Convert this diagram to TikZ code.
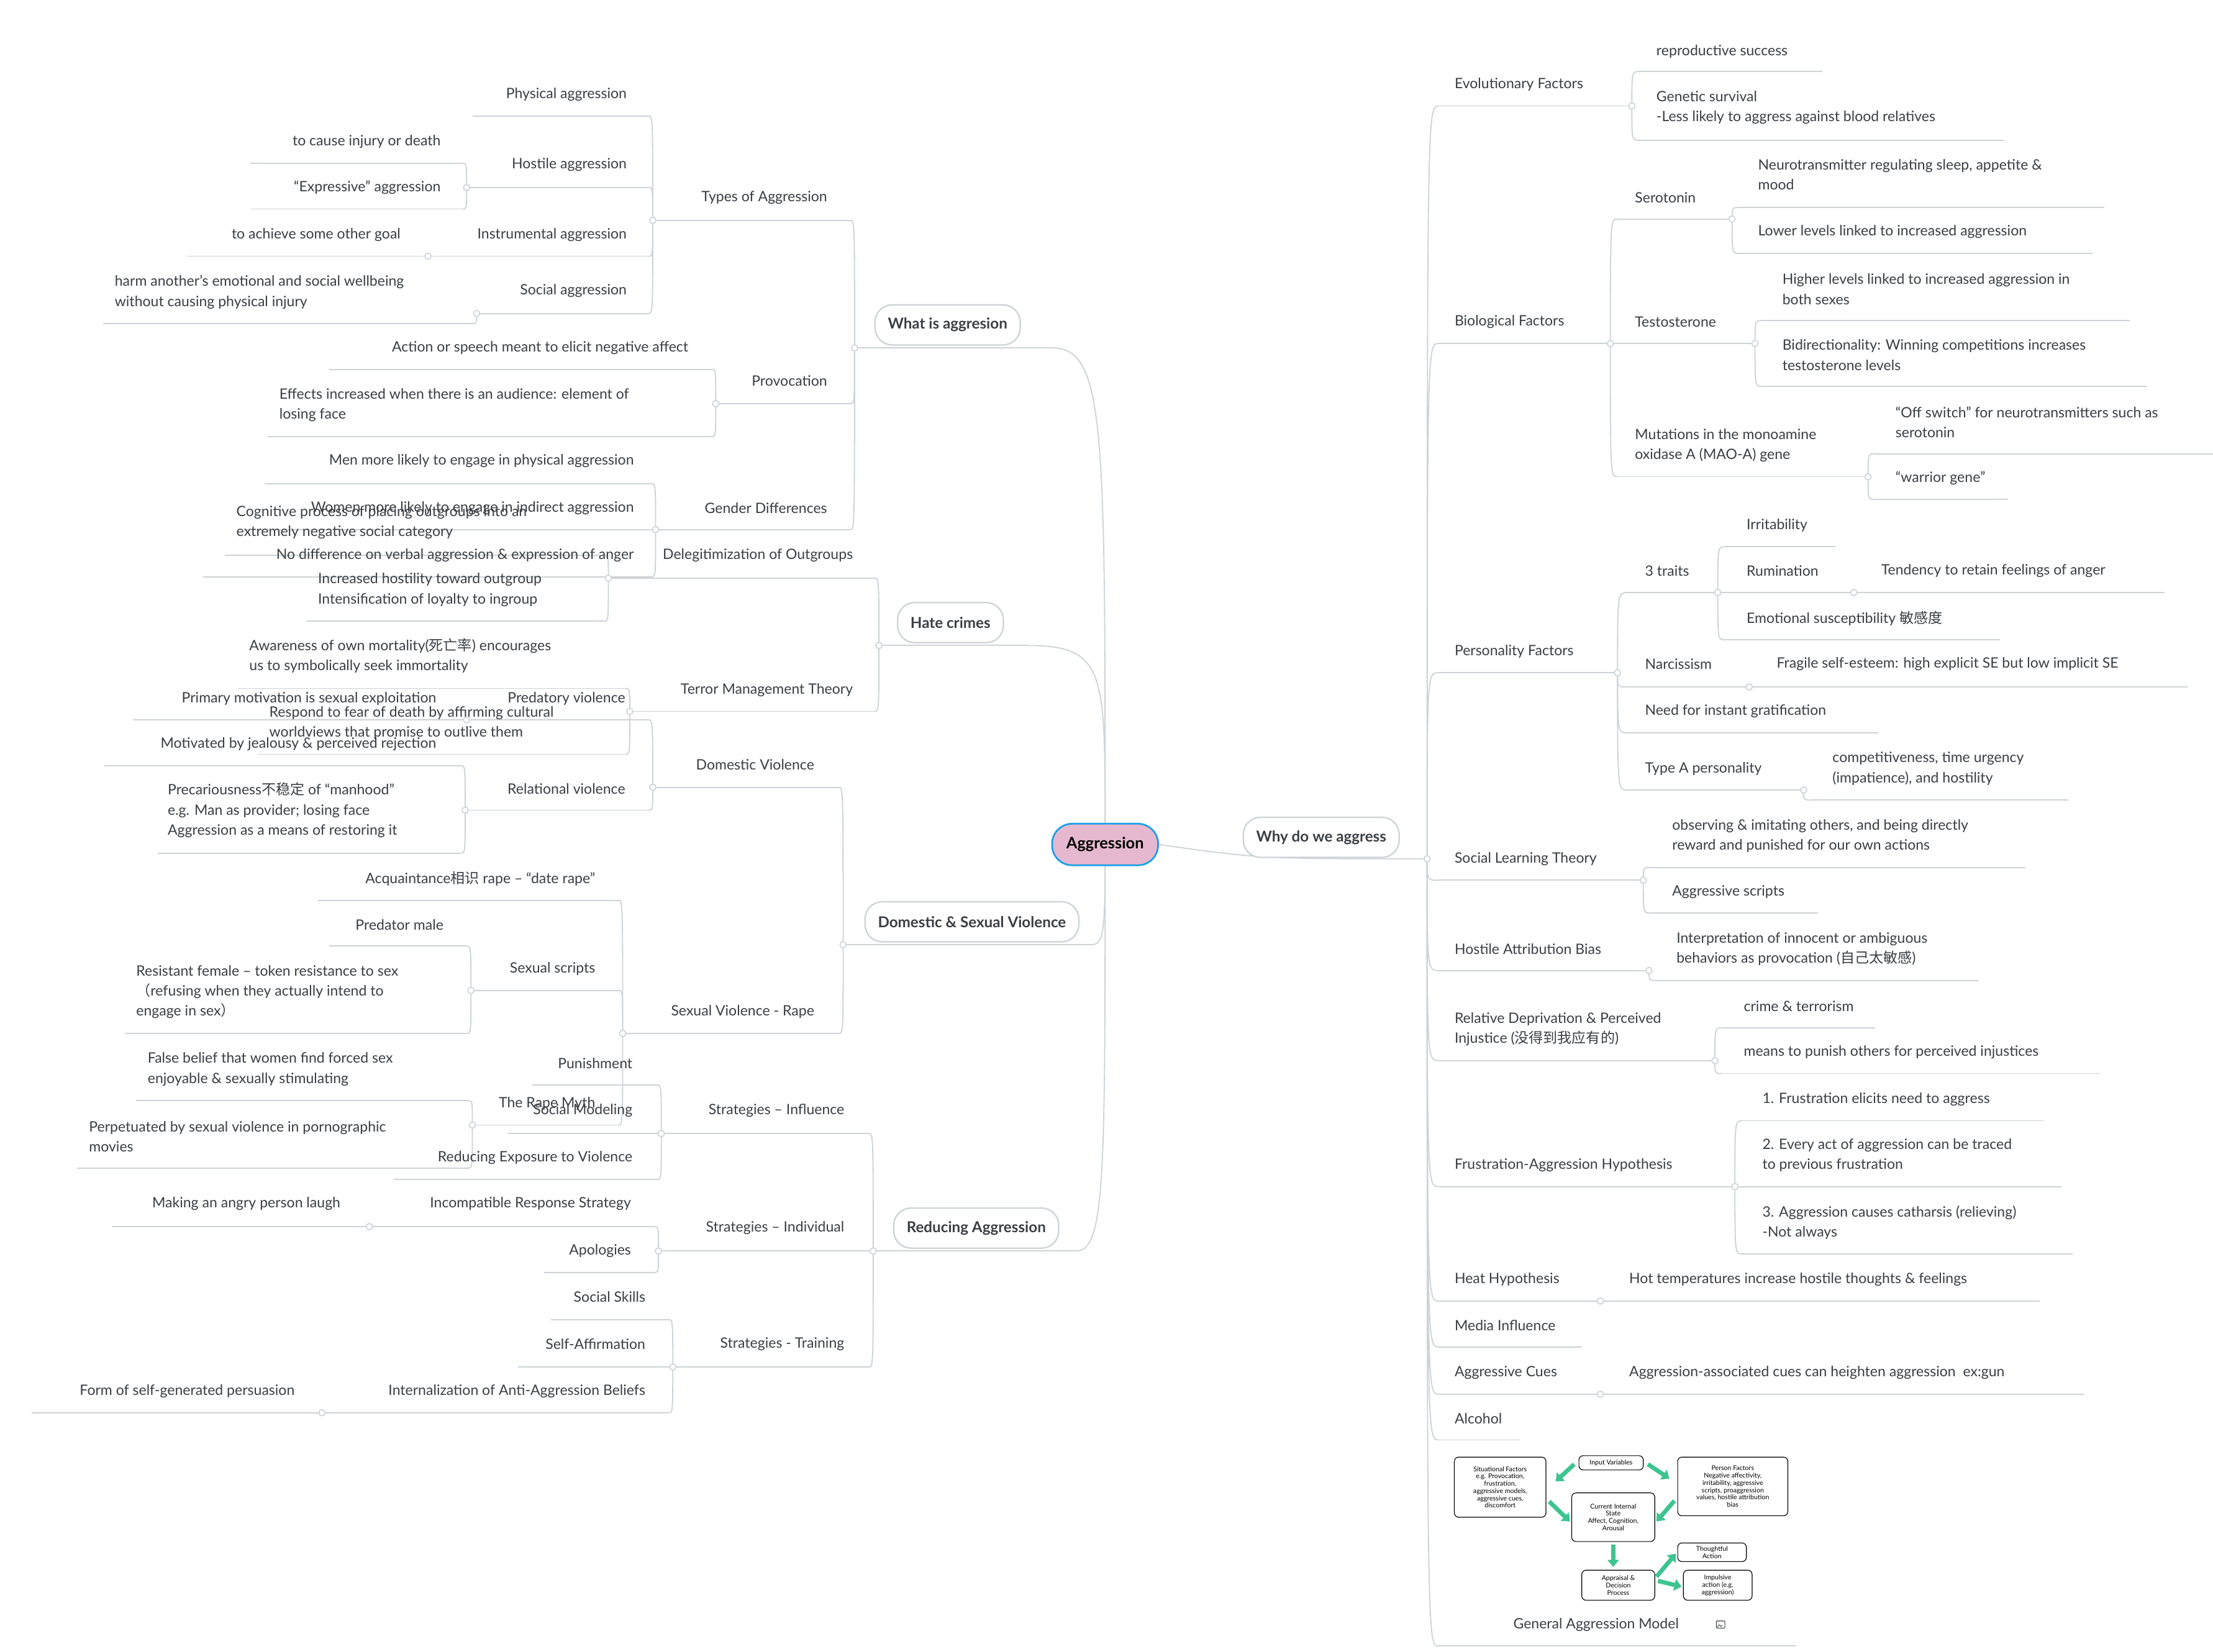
\documentclass[tikz,border=0pt]{standalone}
\usepackage{fontspec}
\setmainfont{Lato}
\newfontfamily\cjk{Noto Sans CJK SC}
\usetikzlibrary{backgrounds,arrows.meta}
\pgfdeclarelayer{bgzero}
\pgfsetlayers{bgzero,background,main}
\definecolor{txt}{HTML}{3A3F44}
\definecolor{ln}{HTML}{CDD3D7}
\definecolor{gam}{HTML}{3EC490}
\definecolor{cfill}{HTML}{E6B8CF}
\definecolor{cbord}{HTML}{1AA0E8}
\tikzset{
 lbl/.style={font=\fontsize{10}{14}\selectfont, text=txt, inner sep=0pt, align=left},
 uline/.style={draw=ln, line width=0.8pt},
 conn/.style={draw=ln, line width=0.8pt},
 topic/.style={draw=ln, line width=1pt, fill=white, rounded corners=12pt, minimum height=28pt, inner xsep=9pt, font=\fontsize{10.5}{13}\selectfont\bfseries, text=txt},
 centre/.style={draw=cbord, line width=1.2pt, fill=cfill, rounded corners=14pt, minimum height=29pt, inner xsep=10pt, font=\fontsize{11}{13}\selectfont\bfseries, text=black},
 gbox/.style={draw=black, line width=0.5pt, rounded corners=3pt, fill=white, font=\fontsize{4.6}{5.1}\selectfont, align=center, inner sep=0.5pt},
 garr/.style={draw=gam, line width=3pt, -{Triangle[length=5pt,width=8pt]}},
}
% name, anchor, text x, text y, line y, line left, line right, text
\newcommand\nd[8]{%
 \node[lbl, anchor=#2] (#1) at (#3,-#4) {#8};
 \coordinate (#1-l) at (#6,-#5);
 \coordinate (#1-r) at (#7,-#5);
 \begin{pgfonlayer}{background}\draw[uline] (#1-l) -- (#1-r);\end{pgfonlayer}}
\newcommand\cn[2]{\begin{pgfonlayer}{background}\draw[conn] (#1) .. controls (#1 |- #2) and (#1 |- #2) .. (#2);\end{pgfonlayer}}
\newcommand\jn[1]{\draw[ln, line width=0.7pt, fill=white] (#1) circle (2.2);}
\begin{document}
\begin{tikzpicture}[x=1pt,y=1pt]
\begin{pgfonlayer}{bgzero}
\fill[white] (0,0) rectangle (1546,-1154);
\end{pgfonlayer}
\useasboundingbox (0,0) rectangle (1546,-1154);

% centre and topics
\node[centre] (C) at (772,-590) {Aggression};
\node[topic] (T1) at (662,-227) {What is aggresion};
\coordinate (T1j) at (597,-243); \coordinate (T1e) at (735,-243);
\node[topic] (T2) at (664,-435) {Hate crimes};
\coordinate (T2j) at (614,-451); \coordinate (T2e) at (718,-451);
\node[topic] (T3) at (679,-644) {Domestic \& Sexual Violence};
\coordinate (T3j) at (589,-660); \coordinate (T3e) at (762,-660);
\node[topic] (T4) at (682,-858) {Reducing Aggression};
\coordinate (T4j) at (610,-874); \coordinate (T4e) at (752,-874);
\node[topic] (T5) at (923,-585) {Why do we aggress};
\coordinate (T5j) at (997,-600);
\begin{pgfonlayer}{background}
\draw[uline] (T1j) -- (T1e); \draw[uline] (T2j) -- (T2e);
\draw[uline] (T3j) -- (T3e); \draw[uline] (T4j) -- (T4e);
\draw[conn] (C.north) .. controls (772,-300) and (772,-243) .. (T1e);
\draw[conn] (C.north) .. controls (772,-470) and (772,-451) .. (T2e);
\draw[conn] (C.south) .. controls (772,-655) and (770,-660) .. (T3e);
\draw[conn] (C.south) .. controls (772,-820) and (772,-874) .. (T4e);
\draw[conn] (C.east) .. controls (880,-600) and (880,-600) .. (T5j);
\end{pgfonlayer}

% ===== What is aggresion
\nd{A1}{east}{578}{138}{154}{456}{594}{Types of Aggression}
\nd{A11}{east}{438}{66}{81}{330}{453}{Physical aggression}
\nd{A12}{east}{438}{115}{131}{326}{453}{Hostile aggression}
\nd{A121}{east}{308}{99}{114}{175}{323}{to cause injury or death}
\nd{A122}{east}{308}{131}{146}{175}{323}{“Expressive” aggression}
\nd{A13}{east}{438}{164}{179}{299}{453}{Instrumental aggression}
\nd{A131}{east}{280}{164}{179}{130}{296}{to achieve some other goal}
\nd{A14}{east}{438}{203}{219}{333}{453}{Social aggression}
\nd{A141}{west}{80}{204}{226}{72}{330}{harm another’s emotional and social wellbeing\\without causing physical injury}
\nd{A2}{east}{578}{266}{282}{500}{594}{Provocation}
\nd{A21}{east}{481}{243}{258}{230}{497}{Action or speech meant to elicit negative affect}
\nd{A22}{west}{195}{283}{305}{187}{497}{Effects increased when there is an audience: element of\\losing face}
\nd{A3}{east}{578}{355}{370}{458}{594}{Gender Differences}
\nd{A31}{east}{443}{322}{338}{185}{455}{Men more likely to engage in physical aggression}
\nd{A32}{east}{443}{355}{370}{170}{455}{Women more likely to engage in indirect aggression}
\nd{A33}{east}{443}{388}{403}{142}{455}{No difference on verbal aggression \& expression of anger}
\cn{T1j}{A1-r}\cn{T1j}{A2-r}\cn{T1j}{A3-r}
\cn{A1-l}{A11-r}\cn{A1-l}{A12-r}\cn{A1-l}{A13-r}\cn{A1-l}{A14-r}
\cn{A12-l}{A121-r}\cn{A12-l}{A122-r}\cn{A13-l}{A131-r}\cn{A14-l}{A141-r}
\cn{A2-l}{A21-r}\cn{A2-l}{A22-r}
\cn{A3-l}{A31-r}\cn{A3-l}{A32-r}\cn{A3-l}{A33-r}
\jn{T1j}\jn{A1-l}\jn{A12-l}\jn{A13-l}\jn{A14-l}\jn{A2-l}\jn{A3-l}

% ===== Hate crimes
\nd{H1}{east}{596}{388}{404}{425}{611}{Delegitimization of Outgroups}
\nd{H11}{west}{165}{365}{388}{157}{422}{Cognitive process of placing outgroups into an\\extremely negative social category}
\nd{H12}{west}{222}{412}{434}{214}{422}{Increased hostility toward outgroup\\Intensification of loyalty to ingroup}
\nd{H2}{east}{596}{482}{497}{440}{611}{Terror Management Theory}
\nd{H21}{west}{174}{458}{481}{166}{437}{Awareness of own mortality({\cjk 死亡率}) encourages\\us to symbolically seek immortality}
\nd{H22}{west}{188}{505}{527}{180}{437}{Respond to fear of death by affirming cultural\\worldviews that promise to outlive them}
\cn{T2j}{H1-r}\cn{T2j}{H2-r}
\cn{H1-l}{H11-r}\cn{H1-l}{H12-r}\cn{H2-l}{H21-r}\cn{H2-l}{H22-r}
\jn{T2j}\jn{H1-l}\jn{H2-l}

% ===== Domestic & Sexual Violence
\nd{D1}{east}{569}{534}{550}{456}{586}{Domestic Violence}
\nd{D11}{east}{437}{488}{503}{326}{453}{Predatory violence}
\nd{D111}{east}{305}{488}{503}{93}{323}{Primary motivation is sexual exploitation}
\nd{D12}{east}{437}{551}{566}{325}{453}{Relational violence}
\nd{D121}{east}{305}{520}{535}{73}{322}{Motivated by jealousy \& perceived rejection}
\nd{D122}{west}{117}{566}{596}{110}{322}{Precariousness{\cjk 不稳定} of “manhood”\\e.g. Man as provider; losing face\\Aggression as a means of restoring it}
\nd{D2}{east}{569}{707}{722}{435}{586}{Sexual Violence - Rape}
\nd{D21}{east}{416}{614}{629}{222}{432}{Acquaintance{\cjk 相识} rape – “date rape”}
\nd{D22}{east}{416}{677}{692}{329}{432}{Sexual scripts}
\nd{D221}{east}{310}{646}{661}{230}{326}{Predator male}
\nd{D222}{west}{95}{693}{722}{87}{326}{Resistant female – token resistance to sex\\{\cjk （}refusing when they actually intend to\\engage in sex{\cjk ）}}
\nd{D23}{east}{416}{771}{786}{330}{432}{The Rape Myth}
\nd{D231}{west}{103}{747}{769}{95}{327}{False belief that women find forced sex\\enjoyable \& sexually stimulating}
\nd{D232}{west}{62}{794}{816}{54}{327}{Perpetuated by sexual violence in pornographic\\movies}
\cn{T3j}{D1-r}\cn{T3j}{D2-r}
\cn{D1-l}{D11-r}\cn{D1-l}{D12-r}\cn{D11-l}{D111-r}\cn{D12-l}{D121-r}\cn{D12-l}{D122-r}
\cn{D2-l}{D21-r}\cn{D2-l}{D22-r}\cn{D2-l}{D23-r}\cn{D22-l}{D221-r}\cn{D22-l}{D222-r}
\cn{D23-l}{D231-r}\cn{D23-l}{D232-r}
\jn{T3j}\jn{D1-l}\jn{D11-l}\jn{D12-l}\jn{D2-l}\jn{D22-l}\jn{D23-l}

% ===== Reducing Aggression
\nd{R1}{east}{590}{776}{792}{462}{607}{Strategies – Influence}
\nd{R11}{east}{442}{743}{758}{372}{459}{Punishment}
\nd{R12}{east}{442}{776}{792}{355}{459}{Social Modeling}
\nd{R13}{east}{442}{809}{824}{275}{459}{Reducing Exposure to Violence}
\nd{R2}{east}{590}{858}{874}{460}{607}{Strategies – Individual}
\nd{R21}{east}{441}{841}{857}{258}{457}{Incompatible Response Strategy}
\nd{R211}{east}{238}{841}{857}{78}{255}{Making an angry person laugh}
\nd{R22}{east}{441}{874}{889}{380}{457}{Apologies}
\nd{R3}{east}{590}{939}{955}{470}{607}{Strategies - Training}
\nd{R31}{east}{451}{906}{922}{385}{467}{Social Skills}
\nd{R32}{east}{451}{939}{955}{362}{467}{Self-Affirmation}
\nd{R33}{east}{451}{972}{987}{225}{467}{Internalization of Anti-Aggression Beliefs}
\nd{R331}{east}{206}{972}{987}{22}{222}{Form of self-generated persuasion}
\cn{T4j}{R1-r}\cn{T4j}{R2-r}\cn{T4j}{R3-r}
\cn{R1-l}{R11-r}\cn{R1-l}{R12-r}\cn{R1-l}{R13-r}
\cn{R2-l}{R21-r}\cn{R2-l}{R22-r}\cn{R21-l}{R211-r}
\cn{R3-l}{R31-r}\cn{R3-l}{R32-r}\cn{R3-l}{R33-r}\cn{R33-l}{R331-r}
\jn{T4j}\jn{R1-l}\jn{R2-l}\jn{R21-l}\jn{R3-l}\jn{R33-l}

% ===== Why do we aggress
\nd{W1}{west}{1016}{59}{74}{1005}{1140}{Evolutionary Factors}
\nd{W11}{west}{1157}{36}{50}{1145}{1273}{reproductive success}
\nd{W12}{west}{1157}{75}{98}{1145}{1400}{Genetic survival\\-Less likely to aggress against blood relatives}
\nd{W2}{west}{1016}{225}{240}{1005}{1125}{Biological Factors}
\nd{W21}{west}{1142}{138}{153}{1130}{1210}{Serotonin}
\nd{W211}{west}{1228}{122}{145}{1215}{1470}{Neurotransmitter regulating sleep, appetite \&\\mood}
\nd{W212}{west}{1228}{162}{177}{1215}{1462}{Lower levels linked to increased aggression}
\nd{W22}{west}{1142}{225}{240}{1130}{1226}{Testosterone}
\nd{W221}{west}{1245}{202}{224}{1231}{1488}{Higher levels linked to increased aggression in\\both sexes}
\nd{W222}{west}{1245}{248}{270}{1231}{1500}{Bidirectionality: Winning competitions increases\\testosterone levels}
\nd{W23}{west}{1142}{311}{333}{1130}{1305}{Mutations in the monoamine\\oxidase A (MAO-A) gene}
\nd{W231}{west}{1324}{295}{317}{1310}{1546}{“Off switch” for neurotransmitters such as\\serotonin}
\nd{W232}{west}{1324}{334}{349}{1310}{1403}{“warrior gene”}
\nd{W3}{west}{1016}{455}{470}{1005}{1130}{Personality Factors}
\nd{W31}{west}{1149}{399}{414}{1137}{1200}{3 traits}
\nd{W311}{west}{1220}{367}{382}{1205}{1282}{Irritability}
\nd{W312}{west}{1220}{399}{414}{1205}{1295}{Rumination}
\nd{W3121}{west}{1314}{399}{414}{1300}{1512}{Tendency to retain feelings of anger}
\nd{W313}{west}{1220}{432}{447}{1205}{1397}{Emotional susceptibility {\cjk 敏感度}}
\nd{W32}{west}{1149}{464}{480}{1137}{1222}{Narcissism}
\nd{W321}{west}{1241}{464}{480}{1227}{1528}{Fragile self-esteem: high explicit SE but low implicit SE}
\nd{W33}{west}{1149}{497}{512}{1137}{1312}{Need for instant gratification}
\nd{W34}{west}{1149}{537}{552}{1137}{1260}{Type A personality}
\nd{W341}{west}{1280}{537}{559}{1265}{1445}{competitiveness, time urgency\\(impatience), and hostility}
\nd{W4}{west}{1016}{600}{615}{1005}{1148}{Social Learning Theory}
\nd{W41}{west}{1168}{584}{606}{1153}{1415}{observing \& imitating others, and being directly\\reward and punished for our own actions}
\nd{W42}{west}{1168}{623}{638}{1153}{1270}{Aggressive scripts}
\nd{W5}{west}{1016}{663}{678}{1005}{1152}{Hostile Attribution Bias}
\nd{W51}{west}{1171}{663}{685}{1157}{1382}{Interpretation of innocent or ambiguous\\behaviors as provocation ({\cjk 自己太敏感})}
\nd{W6}{west}{1016}{719}{741}{1005}{1198}{Relative Deprivation \& Perceived\\Injustice ({\cjk 没得到我应有的})}
\nd{W61}{west}{1218}{703}{718}{1203}{1310}{crime \& terrorism}
\nd{W62}{west}{1218}{735}{750}{1203}{1467}{means to punish others for perceived injustices}
\nd{W7}{west}{1016}{814}{829}{1005}{1212}{Frustration-Aggression Hypothesis}
\nd{W71}{west}{1231}{768}{783}{1217}{1428}{1. Frustration elicits need to aggress}
\nd{W72}{west}{1231}{807}{829}{1217}{1440}{2. Every act of aggression can be traced\\to previous frustration}
\nd{W73}{west}{1231}{854}{876}{1217}{1448}{3. Aggression causes catharsis (relieving)\\-Not always}
\nd{W8}{west}{1016}{894}{909}{1005}{1118}{Heat Hypothesis}
\nd{W81}{west}{1138}{894}{909}{1123}{1425}{Hot temperatures increase hostile thoughts \& feelings}
\nd{W9}{west}{1016}{926}{941}{1005}{1105}{Media Influence}
\nd{W10}{west}{1016}{959}{974}{1005}{1118}{Aggressive Cues}
\nd{W101}{west}{1138}{959}{974}{1123}{1456}{Aggression-associated cues can heighten aggression\ \ ex:gun}
\nd{W11a}{west}{1016}{991}{1006}{1005}{1062}{Alcohol}
\nd{W12a}{west}{1057}{1135}{1150}{1005}{1255}{General Aggression Model}
\node[draw=txt, line width=0.5pt, minimum width=6pt, minimum height=5pt, inner sep=0pt, rounded corners=0.5pt] (icon) at (1202,-1135) {};
\draw[txt, line width=0.4pt] (icon.south west) ++(0.8,0.8) -- ++(1.6,1.8) -- ++(1.2,-1.2) -- ++(1,1);

\foreach \c in {W1,W2,W3,W4,W5,W6,W7,W8,W9,W10,W11a,W12a}{\cn{T5j}{\c-l}}
\cn{W1-r}{W11-l}\cn{W1-r}{W12-l}
\cn{W2-r}{W21-l}\cn{W2-r}{W22-l}\cn{W2-r}{W23-l}
\cn{W21-r}{W211-l}\cn{W21-r}{W212-l}\cn{W22-r}{W221-l}\cn{W22-r}{W222-l}
\cn{W23-r}{W231-l}\cn{W23-r}{W232-l}
\cn{W3-r}{W31-l}\cn{W3-r}{W32-l}\cn{W3-r}{W33-l}\cn{W3-r}{W34-l}
\cn{W31-r}{W311-l}\cn{W31-r}{W312-l}\cn{W31-r}{W313-l}\cn{W312-r}{W3121-l}
\cn{W32-r}{W321-l}\cn{W34-r}{W341-l}
\cn{W4-r}{W41-l}\cn{W4-r}{W42-l}\cn{W5-r}{W51-l}
\cn{W6-r}{W61-l}\cn{W6-r}{W62-l}
\cn{W7-r}{W71-l}\cn{W7-r}{W72-l}\cn{W7-r}{W73-l}
\cn{W8-r}{W81-l}\cn{W10-r}{W101-l}
\jn{T5j}\jn{W1-r}\jn{W2-r}\jn{W21-r}\jn{W22-r}\jn{W23-r}\jn{W3-r}\jn{W31-r}\jn{W312-r}\jn{W32-r}\jn{W34-r}
\jn{W4-r}\jn{W5-r}\jn{W6-r}\jn{W7-r}\jn{W8-r}\jn{W10-r}

% ===== GAM figure
\node[gbox, minimum width=64pt, minimum height=42pt] (gs) at (1048,-1039) {Situational Factors\\e.g. Provocation,\\frustration,\\aggressive models,\\aggressive cues,\\discomfort};
\node[gbox, minimum width=45pt, minimum height=10pt] (gi) at (1125.5,-1022) {Input Variables};
\node[gbox, minimum width=77pt, minimum height=41pt] (gp) at (1210.5,-1038.5) {Person Factors\\Negative affectivity,\\irritability, aggressive\\scripts, proaggression\\values, hostile attribution\\bias};
\node[gbox, minimum width=58pt, minimum height=34pt] (gc) at (1127,-1060) {Current Internal\\State\\Affect, Cognition,\\Arousal};
\node[gbox, minimum width=48pt, minimum height=13pt] (gt) at (1196,-1084.5) {Thoughtful\\Action};
\node[gbox, minimum width=51pt, minimum height=21pt] (ga) at (1130.5,-1107.5) {Appraisal \&\\Decision\\Process};
\node[gbox, minimum width=48pt, minimum height=21pt] (gm) at (1200,-1107.5) {Impulsive\\action (e.g.\\aggression)};
\draw[garr] ([xshift=-3pt,yshift=-1pt]gi.west) -- ([xshift=-16pt,yshift=-13pt]gi.west);
\draw[garr] ([xshift=3pt,yshift=-1pt]gi.east) -- ([xshift=18pt,yshift=-11pt]gi.east);
\draw[garr] ([xshift=2pt,yshift=-10pt]gs.east) -- ([xshift=-1pt,yshift=-3pt]gc.west);
\draw[garr] ([xshift=-2pt,yshift=-10pt]gp.west) -- ([xshift=1pt,yshift=-3pt]gc.east);
\draw[garr] ([yshift=-2pt]gc.south) -- ([yshift=2pt]gc.south |- ga.north);
\draw[garr] ([xshift=1pt,yshift=6pt]ga.east) -- ([xshift=-1pt,yshift=-1pt]gt.west);
\draw[garr] ([xshift=2pt,yshift=3pt]ga.east) -- ([xshift=-1pt,yshift=-1pt]gm.west);
\end{tikzpicture}
\end{document}
